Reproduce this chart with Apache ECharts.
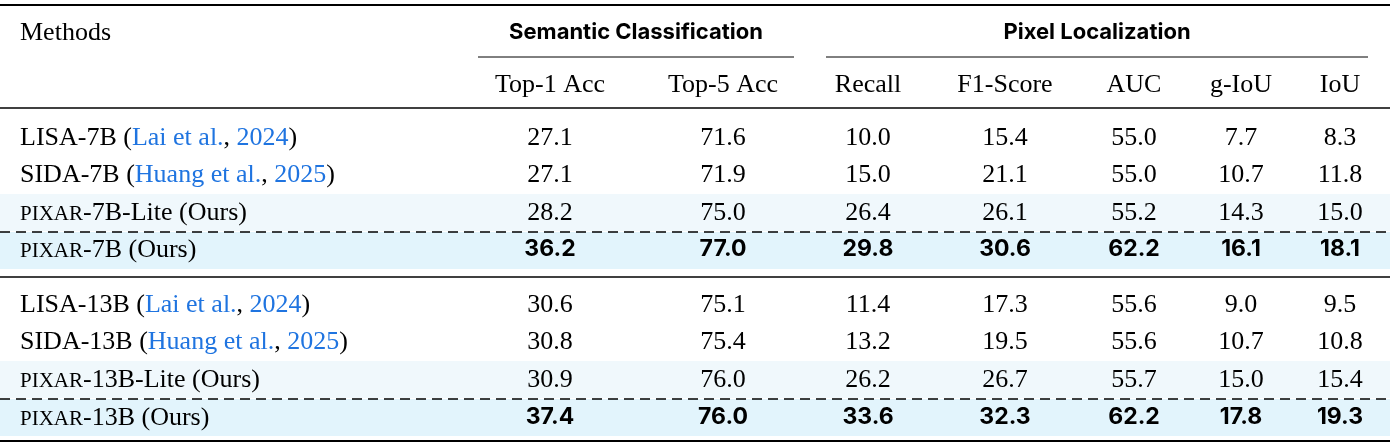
<!DOCTYPE html>
<html><head><meta charset="utf-8">
<script src="https://cdn.jsdelivr.net/npm/echarts@6/dist/echarts.min.js"></script>
<style>html,body{margin:0;padding:0;background:#fff}#c{width:1390px;height:447px}</style>
</head><body><div id="c"></div>
<script>
// ---- data ----
const groupHeaders = ['Semantic Classification', 'Pixel Localization'];
const columns = ['Top-1 Acc', 'Top-5 Acc', 'Recall', 'F1-Score', 'AUC', 'g-IoU', 'IoU'];
const methodNames = ['LISA-7B', 'SIDA-7B', 'PIXAR-7B-Lite', 'PIXAR-7B', 'LISA-13B', 'SIDA-13B', 'PIXAR-13B-Lite', 'PIXAR-13B'];
const citeAuthors = ['Lai et al.', 'Huang et al.', '', '', 'Lai et al.', 'Huang et al.', '', ''];
const citeYears = ['2024', '2025', '', '', '2024', '2025', '', ''];
const top1 = [27.1, 27.1, 28.2, 36.2, 30.6, 30.8, 30.9, 37.4];
const top5 = [71.6, 71.9, 75.0, 77.0, 75.1, 75.4, 76.0, 76.0];
const recall = [10.0, 15.0, 26.4, 29.8, 11.4, 13.2, 26.2, 33.6];
const f1 = [15.4, 21.1, 26.1, 30.6, 17.3, 19.5, 26.7, 32.3];
const auc = [55.0, 55.0, 55.2, 62.2, 55.6, 55.6, 55.7, 62.2];
const giou = [7.7, 10.7, 14.3, 16.1, 9.0, 10.7, 15.0, 17.8];
const iou = [8.3, 11.8, 15.0, 18.1, 9.5, 10.8, 15.4, 19.3];
const boldRows = [3, 7];

// ---- layout ----
const colX = [550, 723, 868, 1005, 1134, 1241, 1340];
const rowY = [138, 175, 213, 250, 305, 342, 380, 418];
const groupX = [636, 1097];
const groupLines = [[478, 794], [826, 1368]];
const bgRows = [[2, 194, 231, '#f0f8fc'], [3, 232, 269, '#e2f4fc'], [6, 361, 398, '#f0f8fc'], [7, 399, 436, '#e2f4fc']];
const SERIF = '"Liberation Serif", "DejaVu Serif", serif';
const SANS = 'Inter, "Noto Sans", sans-serif';
const FS = 26;

const valueCols = [top1, top5, recall, f1, auc, giou, iou];
const texts = [];
texts.push({value: [20, 33], text: 'Methods', align: 'left', font: SERIF, weight: 'normal', size: FS});
groupHeaders.forEach((g, i) => texts.push({value: [groupX[i], 32], text: g, align: 'center', font: SANS, weight: 'bold', size: 22}));
columns.forEach((c, i) => texts.push({value: [colX[i], 85], text: c, align: 'center', font: SERIF, weight: 'normal', size: FS}));
methodNames.forEach((m, r) => {
  let rich;
  if (m.startsWith('PIXAR')) {
    rich = '{sc|PIXAR}{n|' + m.slice(5) + ' (Ours)}';
  } else {
    rich = '{n|' + m + ' (}{b|' + citeAuthors[r] + '}{n|, }{b|' + citeYears[r] + '}{n|)}';
  }
  texts.push({value: [20, rowY[r]], text: rich, align: 'left', font: SERIF, weight: 'normal', size: FS, rich: true});
  valueCols.forEach((arr, ci) => {
    const b = boldRows.includes(r);
    texts.push({value: [colX[ci], rowY[r] - (b ? 1 : 0)], text: arr[r].toFixed(1), align: 'center', font: b ? SANS : SERIF, weight: b ? 'bold' : 'normal', size: b ? 23 : FS});
  });
});

const lines = [
  [0, 1390, 5, 2, 'solid'], [0, 1390, 108, 1.3, 'solid'], [0, 1390, 277, 1.3, 'solid'], [0, 1390, 441, 2, 'solid'],
  [0, 1390, 232, 1.3, 'dashed'], [0, 1390, 399, 1.3, 'dashed'],
  [groupLines[0][0], groupLines[0][1], 57, 1, 'solid'], [groupLines[1][0], groupLines[1][1], 57, 1, 'solid']
];

const chart = echarts.init(document.getElementById('c'));
chart.setOption({
  animation: false,
  grid: {left: 0, right: 0, top: 0, bottom: 0},
  xAxis: {type: 'value', min: 0, max: 1390, show: false},
  yAxis: {type: 'value', min: 0, max: 447, inverse: true, show: false},
  series: [
    {type: 'custom', data: bgRows.map(b => [b[1], b[2]]), renderItem: (p, api) => {
      const a = api.coord([0, api.value(0)]), c = api.coord([1390, api.value(1)]);
      return {type: 'rect', shape: {x: a[0], y: a[1], width: c[0] - a[0], height: c[1] - a[1]}, style: {fill: bgRows[p.dataIndex][3]}};
    }},
    {type: 'custom', data: lines.map(l => [l[0], l[1], l[2]]), renderItem: (p, api) => {
      const l = lines[p.dataIndex];
      const a = api.coord([l[0], l[2]]), c = api.coord([l[1], l[2]]);
      return {type: 'line', shape: {x1: a[0], y1: a[1], x2: c[0], y2: c[1]}, style: {stroke: '#000', lineWidth: l[3], lineDash: l[4] === 'dashed' ? [10, 6] : null}};
    }},
    {type: 'scatter', symbolSize: 0, silent: true, data: texts.map(t => ({
      value: t.value,
      label: {show: true, position: 'inside', formatter: t.text, align: t.align, verticalAlign: 'middle',
        color: '#000', textBorderWidth: 0, opacity: 1, fontFamily: t.font, fontWeight: t.weight, fontSize: t.size,
        rich: t.rich ? {
          n: {fontFamily: SERIF, fontSize: FS, color: '#000'},
          b: {fontFamily: SERIF, fontSize: FS, color: '#1f74e0'},
          sc: {fontFamily: SERIF, fontSize: 21, color: '#000', padding: [3, 0, 0, 0]}
        } : undefined}
    }))}
  ]
});
</script></body></html>
